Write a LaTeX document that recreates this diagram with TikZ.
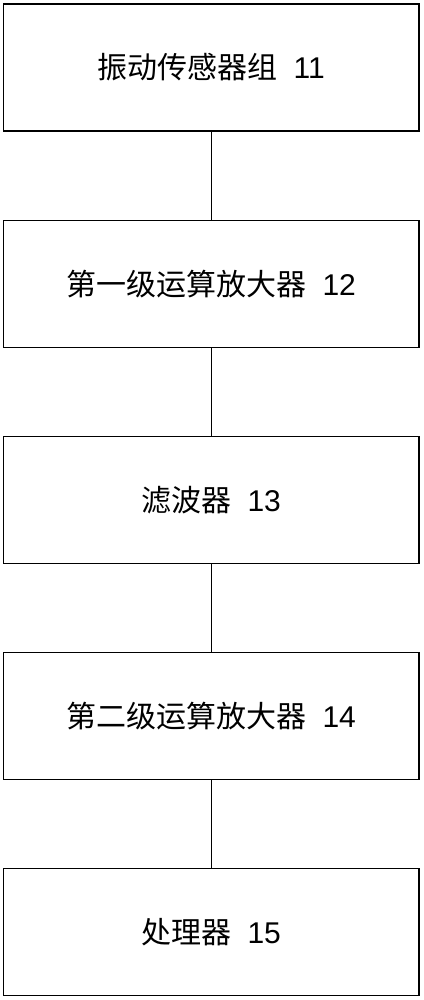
\documentclass[tikz,border=0pt]{standalone}
\usepackage{fontspec}
\setmainfont{Liberation Sans}
\newfontfamily\cjk{Noto Sans CJK SC}
\usetikzlibrary{positioning}

\begin{document}
\begin{tikzpicture}[node distance=216.2pt,on grid,
    block/.style={draw,line width=1.2pt,minimum width=415.5pt,minimum height=127pt,
      inner sep=0pt,font=\fontsize{30pt}{36pt}\selectfont}]
   \useasboundingbox (0,0) rectangle (423pt,-1000pt);
   \node[block] (b_1) at (211.25pt,-67.5pt) {{\cjk 振动传感器组}\hspace{16pt}11};
   \node[block] (b_2) [below=of b_1] {{\cjk 第一级运算放大器}\hspace{16pt}12};
   \node[block] (b_3) [below=of b_2] {{\cjk 滤波器}\hspace{16pt}13};
   \node[block] (b_4) [below=of b_3] {{\cjk 第二级运算放大器}\hspace{16pt}14};
   \node[block] (b_5) [below=of b_4] {{\cjk 处理器}\hspace{16pt}15};
    \path[line width=1.2pt]
    (b_1) edge (b_2)
    (b_2) edge (b_3)
    (b_3) edge (b_4)
    (b_4) edge (b_5);
\end{tikzpicture}
\end{document}
